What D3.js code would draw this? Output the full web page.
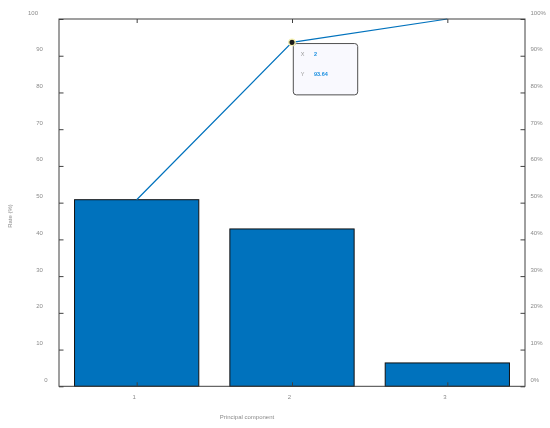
<!DOCTYPE html>
<html><head><meta charset="utf-8">
<script src="https://cdn.jsdelivr.net/npm/d3@7"></script>
<style>body{margin:0;background:#fff;} svg{display:block;will-change:transform;} text{font-family:"Liberation Sans",Arial,sans-serif;}</style>
</head><body>
<svg id="c" width="550" height="428"></svg>
<script>
const categories = [1, 2, 3];
const rates = [50.8, 42.84, 6.36];
const cumulative = [50.8, 93.64, 100];
const leftTicks = [0,10,20,30,40,50,60,70,80,90,100];
const rightTicks = [0,10,20,30,40,50,60,70,80,90,100];
const tipIndex = 1;

const svg = d3.select("#c");
const L = 59, R = 525, T = 19, B = 386.3;
const x = d3.scaleLinear().domain([0.5, 3.5]).range([L, R]);
const y = d3.scaleLinear().domain([0, 100]).range([B, T]);
const yr = d3.scaleLinear().domain([0, 100]).range([B, T]);
const bw = (x(1) - x(0)) * 0.8;
const labelColor = "#8a8a8a";
const axisColor = "#404040";

// bars
svg.selectAll("rect.bar").data(categories).enter().append("rect")
  .attr("x", (d) => x(d) - bw/2).attr("y", (d,i) => y(rates[i]))
  .attr("width", bw).attr("height", (d,i) => y(0) - y(rates[i]))
  .attr("fill", "#0072BD").attr("stroke", "#111").attr("stroke-width", 1);

// cumulative line
svg.append("path").datum(categories)
  .attr("d", d3.line().x(d => x(d)).y((d,i) => yr(cumulative[i])))
  .attr("fill", "none").attr("stroke", "#0072BD").attr("stroke-width", 1.2);

// axes box
const gAx = svg.append("g").attr("stroke", axisColor).attr("stroke-width", 1).attr("fill","none");
gAx.append("rect").attr("x", L).attr("y", T).attr("width", R-L).attr("height", B-T);

// left axis
const la = svg.append("g").attr("transform", `translate(${L},0)`)
  .call(d3.axisRight(y).tickValues(leftTicks).tickSize(4.5).tickFormat(""));
la.select(".domain").remove();
la.selectAll("line").attr("stroke", axisColor);
svg.selectAll("text.ly").data(leftTicks).enter().append("text").attr("class","ly")
  .attr("x", d => 52.5 - 6.5 * String(d).length).attr("y", d => y(d) - 4.5).attr("text-anchor","middle")
  .attr("font-size", 6).attr("fill", labelColor).text(d => d);

// right axis
const ra = svg.append("g").attr("transform", `translate(${R},0)`)
  .call(d3.axisLeft(yr).tickValues(rightTicks).tickSize(4.5).tickFormat(""));
ra.select(".domain").remove();
ra.selectAll("line").attr("stroke", axisColor);
svg.selectAll("text.ry").data(rightTicks).enter().append("text").attr("class","ry")
  .attr("x", 530.5).attr("y", d => yr(d) - 4.5).attr("text-anchor","start")
  .attr("font-size", 6).attr("fill", labelColor).text(d => d + "%");

// bottom & top ticks
const ba = svg.append("g").attr("transform", `translate(0,${B})`)
  .call(d3.axisTop(x).tickValues(categories).tickSize(4).tickFormat(""));
ba.select(".domain").remove();
ba.selectAll("line").attr("stroke", axisColor);
const ta = svg.append("g").attr("transform", `translate(0,${T})`)
  .call(d3.axisBottom(x).tickValues(categories).tickSize(4).tickFormat(""));
ta.select(".domain").remove();
ta.selectAll("line").attr("stroke", axisColor);
svg.selectAll("text.bx").data(categories).enter().append("text").attr("class","bx")
  .attr("x", d => x(d) - 2.5).attr("y", 398.5).attr("text-anchor","middle")
  .attr("font-size", 6).attr("fill", labelColor).text(d => d);

// axis labels
svg.append("text").attr("x", 247).attr("y", 418.5).attr("text-anchor","middle")
  .attr("font-size", 6).attr("fill", labelColor).text("Principal component");
svg.append("text").attr("transform", "translate(11.5,216) rotate(-90)").attr("text-anchor","middle")
  .attr("font-size", 6).attr("fill", labelColor).text("Rate (%)");

// datatip
const px = x(categories[tipIndex]), py = yr(cumulative[tipIndex]);
svg.append("rect").attr("x", px + 1.3).attr("y", py + 1.2).attr("width", 64.4).attr("height", 51.3)
  .attr("rx", 3).attr("fill", "#f9f9fe").attr("stroke", "#505050").attr("stroke-width", 1);
svg.append("circle").attr("cx", px).attr("cy", py).attr("r", 3.2)
  .attr("fill", "#1a1a1a").attr("stroke", "#f5f0b0").attr("stroke-width", 1.3);
svg.append("text").attr("x", px + 8.7).attr("y", py + 13.8).attr("font-size", 5.5).attr("fill", "#999").text("X");
svg.append("text").attr("x", px + 22).attr("y", py + 13.8).attr("font-size", 5.5).attr("fill", "#1a8fe0").attr("font-weight","bold").text(categories[tipIndex]);
svg.append("text").attr("x", px + 8.7).attr("y", py + 33.5).attr("font-size", 5.5).attr("fill", "#999").text("Y");
svg.append("text").attr("x", px + 22).attr("y", py + 33.5).attr("font-size", 5.5).attr("fill", "#1a8fe0").attr("font-weight","bold").text(cumulative[tipIndex].toFixed(2));
</script>
</body></html>
